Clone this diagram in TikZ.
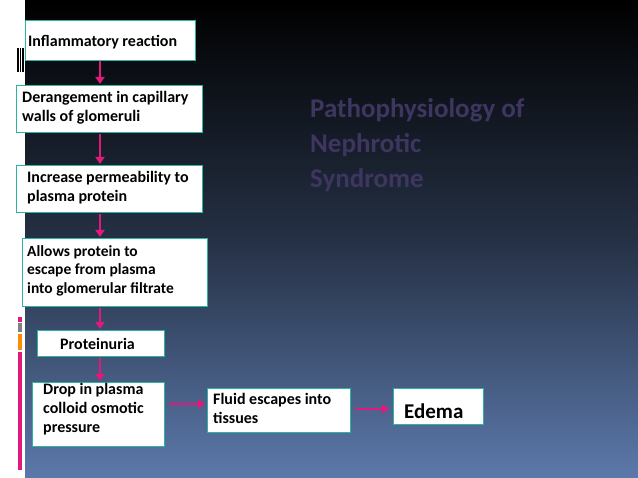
\documentclass[tikz,border=0pt]{standalone}
\usepackage{fontspec}
\setmainfont{Carlito}
\usetikzlibrary{arrows.meta}
\definecolor{pk}{HTML}{E0197A}
\definecolor{tl}{HTML}{2BB3A3}
\definecolor{bot}{HTML}{5C79AB}
\definecolor{ttl}{HTML}{3E3560}
\begin{document}
\begin{tikzpicture}[x=1pt,y=-1pt,
  box/.style={draw=tl,line width=1.2pt,fill=white,anchor=north west,inner sep=0pt},
  txt/.style={anchor=north west,align=left,font=\bfseries\fontsize{16}{19}\selectfont,inner sep=0pt},
  arr/.style={draw=pk,line width=2pt,-{Triangle[length=7pt,width=9pt]}}]
\useasboundingbox (0,0) rectangle (638,478);
\fill[white] (0,0) rectangle (638,478);
\shade[top color=black,bottom color=bot,middle color=black!60!bot] (25,0) rectangle (638,478);
% left decorations
\foreach \x in {17,19.5,22} \fill[black] (\x,48) rectangle ++(1.5,24);
\fill[pk] (18,317) rectangle (22,322);
\fill[gray] (18,323) rectangle (22,332);
\fill[orange!90!yellow] (18,334) rectangle (22,350);
\fill[pk] (18,352) rectangle (22,470);
\node[box,minimum width=170pt,minimum height=40pt] (a) at (25,20) {};
\node[txt,anchor=west] at (28,42) {Inflammatory reaction};
\node[box,minimum width=186pt,minimum height=47pt] (b) at (16,85) {};
\node[txt] at (22,91) {Derangement in capillary\\walls of glomeruli};
\node[box,minimum width=186pt,minimum height=47pt] (c) at (16,165) {};
\node[txt] at (27,171) {Increase permeability to\\plasma protein};
\node[box,minimum width=185pt,minimum height=68pt] (d) at (22,238) {};
\node[txt,font=\bfseries\fontsize{15.5}{18.5}\selectfont] at (27,245) {Allows protein to\\escape from plasma\\into glomerular filtrate};
\node[box,minimum width=127pt,minimum height=26pt] (e) at (37,330) {};
\node[txt,anchor=west] at (60,344) {Proteinuria};
\node[box,minimum width=132pt,minimum height=64pt] (f) at (32,382) {};
\node[txt] at (43,383) {Drop in plasma\\colloid osmotic\\pressure};
\node[box,minimum width=143pt,minimum height=44pt] (g) at (207,388) {};
\node[txt] at (213,393) {Fluid escapes into\\tissues};
\node[box,minimum width=90pt,minimum height=36pt] (h) at (393,388) {};
\node[txt,anchor=west,font=\bfseries\fontsize{21}{24}\selectfont] at (404,411) {Edema};
\node[anchor=north west,align=left,text=ttl,font=\bfseries\fontsize{27}{35}\selectfont,inner sep=0pt] (t) at (310,98) {Pathophysiology of\\Nephrotic\\Syndrome};
\draw[arr] (100,61) -- (100,84);
\draw[arr] (100,134) -- (100,164);
\draw[arr] (100,214) -- (100,237);
\draw[arr] (100,308) -- (100,329);
\draw[arr] (100,358) -- (100,381);
\draw[arr] (169,404) -- (205,404);
\draw[arr] (355,409) -- (389,409);
\end{tikzpicture}
\end{document}
